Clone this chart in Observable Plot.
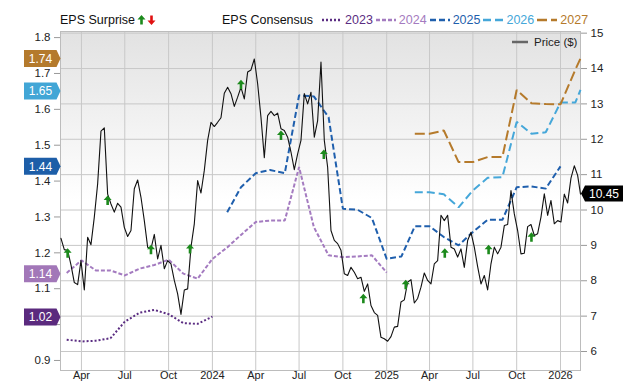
<!DOCTYPE html>
<html>
<head>
<meta charset="utf-8">
<script src="https://cdn.jsdelivr.net/npm/d3@7"></script>
<script src="https://cdn.jsdelivr.net/npm/@observablehq/plot@0.6"></script>
<style>
  body { margin: 0; background: #fff; font-family: "Liberation Sans", Arial, sans-serif; }
  #wrap { position: relative; width: 640px; height: 382px; overflow: hidden; }
  #legend { position: relative; width: 640px; height: 28px; font-size: 12.5px; color: #111; }
  #legend .abs { position: absolute; top: 13px; line-height: 14px; white-space: nowrap; display: flex; align-items: center; }
  #legend svg { display: block; }
  #priceKey { position: absolute; left: 512px; top: 35px; font-size: 11.5px; color: #222; display: flex; align-items: center; line-height: 14px; }
</style>
</head>
<body>
<div id="wrap">
  <div id="legend"></div>
  <div id="chart"></div>
  <div id="priceKey"></div>
</div>
<script>
// ---------------- DATA ----------------
const priceDates = [
"2023-02-17","2023-02-24","2023-03-03","2023-03-10","2023-03-17","2023-03-24","2023-03-31","2023-04-07","2023-04-14","2023-04-21","2023-04-28","2023-05-05","2023-05-12","2023-05-19","2023-05-26","2023-06-02","2023-06-09","2023-06-16","2023-06-23","2023-06-30","2023-07-07","2023-07-14","2023-07-21","2023-07-28","2023-08-04","2023-08-11","2023-08-18","2023-08-25","2023-09-01","2023-09-08","2023-09-15","2023-09-22","2023-09-29","2023-10-06","2023-10-13","2023-10-20","2023-10-27","2023-11-03","2023-11-10","2023-11-17","2023-11-24","2023-12-01","2023-12-08","2023-12-15","2023-12-22","2023-12-29",
"2024-01-05","2024-01-12","2024-01-19","2024-01-26","2024-02-02","2024-02-09","2024-02-16","2024-02-23","2024-03-01","2024-03-08","2024-03-15","2024-03-22","2024-03-29","2024-04-05","2024-04-12","2024-04-19","2024-04-26","2024-05-03","2024-05-10","2024-05-17","2024-05-24","2024-05-31","2024-06-07","2024-06-14","2024-06-21","2024-06-28","2024-07-05","2024-07-12","2024-07-19","2024-07-26","2024-08-02","2024-08-09","2024-08-16","2024-08-23","2024-08-30","2024-09-06","2024-09-13","2024-09-20","2024-09-27","2024-10-04","2024-10-11","2024-10-18","2024-10-25","2024-11-01","2024-11-08","2024-11-15","2024-11-22","2024-11-29","2024-12-06","2024-12-13","2024-12-20","2024-12-27",
"2025-01-03","2025-01-10","2025-01-17","2025-01-24","2025-01-31","2025-02-07","2025-02-14","2025-02-21","2025-02-28","2025-03-07","2025-03-14","2025-03-21","2025-03-28","2025-04-04","2025-04-11","2025-04-18","2025-04-25","2025-05-02","2025-05-09","2025-05-16","2025-05-23","2025-05-30","2025-06-06","2025-06-13","2025-06-20","2025-06-27","2025-07-04","2025-07-11","2025-07-18","2025-07-25","2025-08-01","2025-08-08","2025-08-15","2025-08-22","2025-08-29","2025-09-05","2025-09-12","2025-09-19","2025-09-26","2025-10-03","2025-10-10","2025-10-17","2025-10-24","2025-10-31","2025-11-07","2025-11-14","2025-11-21","2025-11-28","2025-12-05","2025-12-12","2025-12-19","2025-12-26",
"2026-01-02","2026-01-09","2026-01-16","2026-01-23","2026-01-30","2026-02-06","2026-02-12"
];
const priceValues = [
9.20,8.88,8.86,8.45,7.95,7.89,8.57,7.74,9.23,9.02,9.80,10.74,12.23,12.32,10.45,10.17,9.94,10.19,10.08,9.51,
9.25,9.42,10.60,10.85,10.36,9.70,8.95,8.90,9.31,8.62,9.00,8.34,8.57,8.48,8.01,7.63,7.05,7.74,7.77,8.95,
9.61,10.83,10.48,11.12,11.97,12.48,12.36,12.48,12.61,13.30,13.47,13.29,12.93,13.19,13.47,13.14,13.90,13.96,14.27,13.57,
12.62,11.48,12.67,12.79,12.67,12.74,12.30,12.25,12.06,11.64,11.14,11.59,11.97,13.29,13.00,13.33,12.06,12.53,14.18,11.97,
11.21,9.42,9.14,9.05,8.86,8.20,8.15,8.38,8.24,8.06,8.10,7.70,7.91,7.30,7.10,7.02,6.40,6.36,6.29,6.42,
6.69,6.71,7.40,7.46,7.96,8.03,7.37,7.50,7.82,8.22,8.01,7.91,8.48,8.57,9.85,9.70,9.85,8.95,8.90,8.67,
8.90,8.38,9.14,9.37,8.95,8.40,7.91,8.15,7.74,8.48,8.95,8.76,8.95,9.56,9.59,10.55,9.89,9.42,8.76,8.78,
9.53,9.59,9.28,9.33,9.80,10.46,9.85,10.27,9.61,9.70,9.66,10.45,10.20,10.90,11.25,10.98,10.45
];

const cons2023Dates = ["2023-03-01","2023-04-01","2023-05-01","2023-06-01","2023-07-01","2023-08-01","2023-09-01","2023-10-01","2023-11-01","2023-12-01","2024-01-01"];
const cons2023 = [0.958,0.953,0.955,0.962,1.008,1.033,1.041,1.029,1.004,1.002,1.022];

const cons2024Dates = ["2023-03-01","2023-04-01","2023-05-01","2023-06-01","2023-07-01","2023-08-01","2023-09-01","2023-10-01","2023-11-01","2023-12-01","2024-01-01","2024-02-01","2024-03-01","2024-04-01","2024-05-01","2024-06-01","2024-07-01","2024-08-01","2024-09-01","2024-10-01","2024-11-01","2024-12-01","2025-01-01"];
const cons2024 = [1.144,1.179,1.151,1.151,1.137,1.156,1.166,1.181,1.142,1.128,1.183,1.215,1.250,1.286,1.290,1.290,1.439,1.272,1.193,1.188,1.190,1.193,1.145];

const cons2025Dates = ["2024-02-01","2024-03-01","2024-04-01","2024-05-01","2024-06-01","2024-07-01","2024-08-01","2024-09-01","2024-10-01","2024-11-01","2024-12-01","2025-01-01","2025-02-01","2025-03-01","2025-04-01","2025-05-01","2025-06-01","2025-07-01","2025-08-01","2025-09-01","2025-10-01","2025-11-01","2025-12-01","2026-01-01"];
const cons2025 = [1.313,1.383,1.422,1.431,1.422,1.639,1.636,1.578,1.323,1.320,1.297,1.183,1.190,1.274,1.274,1.244,1.221,1.258,1.292,1.292,1.383,1.385,1.379,1.441];

const cons2026Dates = ["2025-03-01","2025-04-01","2025-05-01","2025-06-01","2025-07-01","2025-08-01","2025-09-01","2025-10-01","2025-11-01","2025-12-01","2026-01-01","2026-02-01","2026-02-12"];
const cons2026 = [1.369,1.369,1.363,1.327,1.374,1.409,1.411,1.565,1.532,1.536,1.619,1.619,1.654];

const cons2027Dates = cons2026Dates;
const cons2027 = [1.532,1.532,1.541,1.453,1.453,1.467,1.467,1.654,1.617,1.615,1.614,1.710,1.742];

const consYears = ["2023","2024","2025","2026","2027"];
const consColors = ["#5b2d82","#a47bc0","#1f5fad","#45a7d9","#b57a2b"];
const consDash = ["2,2","4,2","6,3","8,4","10,4"];

const surpriseDates = ["2023-03-03","2023-05-26","2023-08-25","2023-11-15","2024-03-01","2024-05-24","2024-08-22","2024-11-13","2025-02-10","2025-05-03","2025-08-03","2025-11-01"];
const surpriseLevels = [8.78,10.27,8.88,8.90,13.54,12.11,11.57,7.49,7.89,8.78,8.88,9.23];

const tagValues = [1.74,1.65,1.44,1.14,1.02];
const tagColors = ["#b47a2c","#42a6d6","#1d5ea8","#a277b8","#5b2a7e"];
const lastPrice = 10.45;

const priceTicks = [6,7,8,9,10,11,12,13,14,15];
const epsTicks = [0.9,1.0,1.1,1.2,1.3,1.4,1.5,1.6,1.7,1.8];
const epsTickLabels = ["0.9","","1.1","1.2","1.3","1.4","1.5","1.6","1.7","1.8"];
const xTickDates = ["2023-04-01","2023-07-01","2023-10-01","2024-01-01","2024-04-01","2024-07-01","2024-10-01","2025-01-01","2025-04-01","2025-07-01","2025-10-01","2026-01-01"];
const xTickLabels = ["Apr","Jul","Oct","2024","Apr","Jul","Oct","2025","Apr","Jul","Oct","2026"];
const xDomain = ["2023-02-16","2026-02-12"];
const priceDomain = [5.463, 15.047];
const epsDomain = [0.872, 1.817];

// ---------------- BUILD ----------------
const toPrice = e => priceDomain[0] + (e - epsDomain[0]) * (priceDomain[1] - priceDomain[0]) / (epsDomain[1] - epsDomain[0]);

const price = priceDates.map((d, i) => ({date: new Date(d), value: priceValues[i]}));
const consSeries = [
  [cons2023Dates, cons2023], [cons2024Dates, cons2024], [cons2025Dates, cons2025],
  [cons2026Dates, cons2026], [cons2027Dates, cons2027]
].map(([ds, vs]) => ds.map((d, i) => ({date: new Date(d), eps: vs[i]})));
const surprises = surpriseDates.map((d, i) => ({date: new Date(d), level: surpriseLevels[i]}));
const xTicks = xTickDates.map(d => new Date(d));
const xLabelOf = d => { const i = xTicks.findIndex(t => +t === +d); return i >= 0 ? xTickLabels[i] : ""; };
const epsTickPos = epsTicks.map(toPrice);
const epsLabelOf = p => { let best = 0; epsTickPos.forEach((q, i) => { if (Math.abs(q - p) < Math.abs(epsTickPos[best] - p)) best = i; }); return epsTickLabels[best]; };

const upArrow = {
  draw(ctx) {
    ctx.moveTo(0, -5); ctx.lineTo(4, -0.5); ctx.lineTo(1.3, -0.5); ctx.lineTo(1.3, 4.5);
    ctx.lineTo(-1.3, 4.5); ctx.lineTo(-1.3, -0.5); ctx.lineTo(-4, -0.5); ctx.closePath();
  }
};

function tagsMark(index, scales, values, dimensions) {
  const g = d3.create("svg:g")
    .attr("font-family", '"Liberation Sans", Arial, sans-serif')
    .attr("font-size", 12).attr("text-anchor", "middle");
  const xl = dimensions.marginLeft;
  tagValues.forEach((v, i) => {
    const y = scales.y(toPrice(v));
    g.append("path")
      .attr("d", `M${xl + 0.5},${y}L${xl - 3.5},${y - 8.5}H${xl - 36}V${y + 8.5}H${xl - 3.5}Z`)
      .attr("fill", tagColors[i]);
    g.append("text").attr("x", xl - 19.5).attr("y", y).attr("dy", "0.36em")
      .attr("fill", "#fff").text(v.toFixed(2));
  });
  const xr = dimensions.width - dimensions.marginRight;
  const yp = scales.y(lastPrice);
  g.append("path")
    .attr("d", `M${xr + 1},${yp}L${xr + 5},${yp - 8}H${xr + 43}V${yp + 8}H${xr + 5}Z`)
    .attr("fill", "#000");
  g.append("text").attr("x", xr + 24).attr("y", yp).attr("dy", "0.36em")
    .attr("fill", "#fff").text(lastPrice.toFixed(2));
  return g.node();
}

const out = Plot.plot({
  width: 640,
  height: 354,
  marginTop: 3,
  marginBottom: 12,
  marginLeft: 60,
  marginRight: 60,
  style: {fontFamily: '"Liberation Sans", Arial, sans-serif', fontSize: "11.5px", color: "#222", background: "#fff", overflow: "visible"},
  x: {type: "utc", domain: xDomain.map(d => new Date(d))},
  y: {domain: priceDomain},
  marks: [
    Plot.frame({fill: "url(#plotBg)", stroke: null}),
    Plot.gridX({ticks: xTicks, stroke: "#c8c8c8", strokeOpacity: 1}),
    Plot.gridY({ticks: priceTicks, stroke: "#c8c8c8", strokeOpacity: 1}),
    Plot.frame({stroke: "#bcbcbc"}),
    ...consSeries.map((s, i) => Plot.line(s, {
      x: "date", y: d => toPrice(d.eps), stroke: consColors[i], strokeWidth: 2,
      strokeDasharray: consDash[i], strokeLinecap: "butt", strokeLinejoin: "miter", curve: "linear"
    })),
    Plot.line(price, {x: "date", y: "value", stroke: "#111", strokeWidth: 1.1}),
    Plot.dot(surprises, {x: "date", y: "level", symbol: upArrow, fill: "#1c8a1c", stroke: "none"}),
    Plot.axisX({ticks: xTicks, tickSize: 0, tickPadding: 1, tickFormat: xLabelOf, label: null, fill: "#222", fontSize: 11}),
    Plot.axisY({anchor: "right", ticks: priceTicks, tickSize: 6, tickPadding: 4, label: null, stroke: "#9a9a9a", fill: "#222"}),
    Plot.axisY({anchor: "left", ticks: epsTickPos, tickSize: 6, tickPadding: 4, label: null,
      tickFormat: epsLabelOf, stroke: "#9a9a9a", fill: "#222"}),
    tagsMark
  ]
});
const svgEl = out.tagName.toLowerCase() === "svg" ? out : out.querySelector("svg");
const grad = d3.select(svgEl).insert("defs", ":first-child")
  .append("linearGradient").attr("id", "plotBg").attr("x1", 0).attr("y1", 0).attr("x2", 0).attr("y2", 1);
grad.append("stop").attr("offset", "0%").attr("stop-color", "#e2e2e2");
grad.append("stop").attr("offset", "50%").attr("stop-color", "#ffffff");
grad.append("stop").attr("offset", "100%").attr("stop-color", "#ffffff");
document.getElementById("chart").appendChild(out);

// ---------------- LEGEND ----------------
const legend = d3.select("#legend");
const sur = legend.append("div").attr("class", "abs").style("left", "60px");
sur.append("span").text("EPS Surprise");
const arrows = sur.append("svg").attr("width", 20).attr("height", 12).style("margin-left", "2px");
arrows.append("path").attr("transform", "translate(4.5,6)").attr("fill", "#1c8a1c")
  .attr("d", d3.symbol(upArrow)());
arrows.append("path").attr("transform", "translate(14.5,6) rotate(180)").attr("fill", "#e01010")
  .attr("d", d3.symbol(upArrow)());

const cons = legend.append("div").attr("class", "abs").style("left", "222px");
cons.append("span").text("EPS Consensus").style("margin-right", "9px");
consYears.forEach((yr, i) => {
  const s = cons.append("svg").attr("width", 20).attr("height", 4).style("margin-right", "3px");
  s.append("line").attr("x1", 0).attr("x2", 20).attr("y1", 2).attr("y2", 2)
    .attr("stroke", consColors[i]).attr("stroke-width", 2.5).attr("stroke-dasharray", consDash[i]);
  cons.append("span").text(yr).style("color", consColors[i]).style("margin-right", "3px");
});

const pk = d3.select("#priceKey");
const pks = pk.append("svg").attr("width", 16).attr("height", 4).style("margin-right", "6px");
pks.append("line").attr("x1", 0).attr("x2", 16).attr("y1", 2).attr("y2", 2).attr("stroke", "#666").attr("stroke-width", 2.5);
pk.append("span").text("Price ($)");
</script>
</body>
</html>
